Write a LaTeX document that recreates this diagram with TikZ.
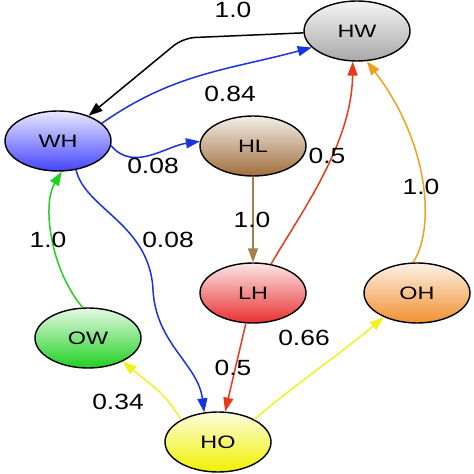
\documentclass[tikz,border=0pt]{standalone}
\usepackage{fontspec}
\setmainfont{Liberation Sans}
\newfontfamily\labfont[FakeStretch=1.2]{Liberation Sans}
\newfontfamily\nodefont[FakeStretch=1.3]{Liberation Sans}
\usetikzlibrary{arrows.meta,shapes.geometric}
\definecolor{cHW}{HTML}{A8A8A8}
\definecolor{cWH}{HTML}{4444FF}
\definecolor{cHL}{HTML}{A06E3C}
\definecolor{cLH}{HTML}{E83030}
\definecolor{cOH}{HTML}{F09030}
\definecolor{cOW}{HTML}{20D020}
\definecolor{cHO}{HTML}{F0F000}
\definecolor{eBlue}{HTML}{1A33E0}
\definecolor{eBrown}{HTML}{A87E48}
\definecolor{eRed}{HTML}{E83A1A}
\definecolor{eOrange}{HTML}{F0A020}
\definecolor{eGreen}{HTML}{22D022}
\definecolor{eYellow}{HTML}{F2F020}
\tikzset{
  st/.style={ellipse, draw=black, line width=1.4pt, minimum width=106pt,
    minimum height=60pt, inner sep=0pt, top color=#1!12!white, bottom color=#1,
    font=\nodefont\fontsize{18}{18}\selectfont},
  lab/.style={font=\labfont\fontsize{22}{22}\selectfont, inner sep=0pt},
  edge/.style={line width=1.5pt, -{Triangle[length=14pt,width=10pt]}},
}
\begin{document}
\begin{tikzpicture}[x=1pt,y=1pt]
\fill[white] (0,0) rectangle (474,474);
\useasboundingbox (0,0) rectangle (474,474);
\node[st=cHW] (HW) at (357,443) {HW};
\node[st=cWH] (WH) at (58,333) {WH};
\node[st=cHL] (HL) at (253,328) {HL};
\node[st=cLH] (LH) at (253,181) {LH};
\node[st=cOH] (OH) at (417,181) {OH};
\node[st=cOW] (OW) at (88,136) {OW};
\node[st=cHO] (HO) at (218,32) {HO};
\coordinate (bk) at (183,436);
% edges
\draw[edge, black, rounded corners=12pt] (HW.182) -- (bk) -- (WH);
\draw[edge, eBlue] (WH.22) to[out=35,in=195] (HW.200);
\draw[edge, eBlue] (WH.-5) to[out=-50,in=188] (HL.175);
\draw[edge, eBrown] (HL) -- (LH);
\draw[edge, eRed] (LH.58) .. controls (300,260) and (352,330) .. (HW.-98);
\draw[edge, eOrange] (OH.97) .. controls (435,245) and (430,330) .. (HW.-72);
\draw[edge, eBlue] (WH.-58) .. controls (85,265) and (150,250) .. (153,184) .. controls (156,130) and (198,110) .. (HO.115);
\draw[edge, eRed] (LH) -- (HO);
\draw[edge, eYellow] (HO.149) to[out=120,in=-40] (OW.-34);
\draw[edge, eYellow] (HO.32) to[out=40,in=220] (OH.216);
\draw[edge, eGreen] (OW.100) .. controls (50,205) and (42,270) .. (WH.-83);
% labels
\node[lab] (l1) at (233,464) {1.0};
\node[lab] (l2) at (230,380) {0.84};
\node[lab] (l3) at (153,308) {0.08};
\node[lab] (l4) at (327,318) {0.5};
\node[lab] (l5) at (421,287) {1.0};
\node[lab] (l6) at (252,254) {1.0};
\node[lab] (l7) at (48,234) {1.0};
\node[lab] (l8) at (168,234) {0.08};
\node[lab] (l9) at (304,136) {0.66};
\node[lab] (l10) at (233,106) {0.5};
\node[lab] (l11) at (118,72) {0.34};
\end{tikzpicture}
\end{document}
